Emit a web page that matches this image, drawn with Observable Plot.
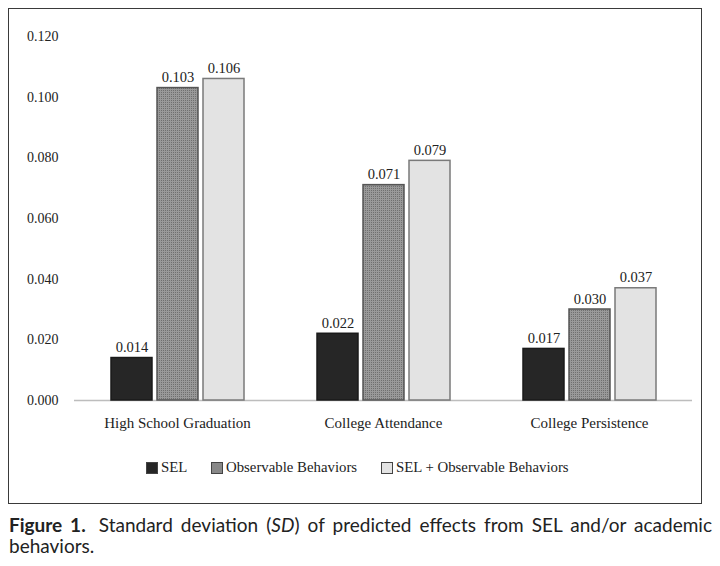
<!DOCTYPE html>
<html>
<head>
<meta charset="utf-8">
<script src="https://cdn.jsdelivr.net/npm/d3@7"></script>
<script src="https://cdn.jsdelivr.net/npm/@observablehq/plot@0.6"></script>
<style>
  html, body { margin: 0; padding: 0; background: #fff; }
  #wrap { position: relative; width: 720px; height: 566px; overflow: hidden; }
  #frame { position: absolute; left: 8px; top: 8px; width: 694px; height: 496px; border: 1.5px solid #3a3a3a; box-sizing: border-box; }
  #chart { position: absolute; left: 0; top: 0; }
  #legend { position: absolute; left: 0; top: 459px; width: 720px; height: 20px;
            font-family: "Liberation Serif", serif; font-size: 14.8px; color: #222; }
  #legend .item { position: absolute; top: 0; display: flex; align-items: center; white-space: nowrap; }
  #legend .sw { width: 10px; height: 10px; border: 1px solid #444; margin-right: 3px; }
  #caption { position: absolute; left: 9px; top: 515px; width: 703px;
             font-family: Lato, "Noto Sans", sans-serif; font-size: 19px; line-height: 20px; color: #222; }
  #caption .l1 { text-align: justify; text-align-last: justify; }
  #caption .l2 { margin-top: 1px; }
  #caption b { font-weight: 700; margin-right: 5px; }
</style>
</head>
<body>
<div id="wrap">
  <div id="frame"></div>
  <div id="chart"></div>
  <div id="legend"></div>
  <div id="caption">
    <div class="l1"><b>Figure 1.</b> <span>Standard deviation (</span><i>SD</i><span>) of predicted effects from SEL and/or academic</span></div>
    <div class="l2">behaviors.</div>
  </div>
</div>
<script>
const categories = ["High School Graduation", "College Attendance", "College Persistence"];
const series = ["SEL", "Observable Behaviors", "SEL + Observable Behaviors"];
const selValues = [0.014, 0.022, 0.017];
const obsValues = [0.103, 0.071, 0.030];
const bothValues = [0.106, 0.079, 0.037];
const yTicks = [0, 0.02, 0.04, 0.06, 0.08, 0.10, 0.12];

const fills = ["#262626", "url(#dots)", "#e3e3e3"];
const strokes = ["#1a1a1a", "#555555", "#7a7a7a"];

const data = [];
categories.forEach((c, i) => {
  [selValues, obsValues, bothValues].forEach((arr, j) => {
    data.push({category: c, series: series[j], value: arr[i]});
  });
});

const chart = Plot.plot({
  width: 720,
  height: 440,
  marginTop: 36,
  marginBottom: 40,
  marginLeft: 73,
  marginRight: 28,
  style: {fontFamily: "'Liberation Serif', serif", fontSize: "14px", color: "#222", background: "transparent"},
  fx: {domain: categories, padding: 0, axis: "bottom", label: null, tickSize: 0, tickPadding: 17},
  x: {domain: series, axis: null, paddingInner: 0.11, paddingOuter: 0.76},
  y: {domain: [0, 0.12], ticks: yTicks, tickFormat: d3.format(".3f"), tickSize: 0, tickPadding: 16, label: null},
  color: {domain: series, range: fills},
  marks: [
    Plot.ruleY([0], {stroke: "#bdbdbd", strokeWidth: 1.5}),
    Plot.barY(data, {fx: "category", x: "series", y: "value", fill: "series",
      stroke: d => strokes[series.indexOf(d.series)], strokeWidth: 1.5}),
    Plot.text(data, {fx: "category", x: "series", y: "value", text: d => d3.format(".3f")(d.value),
      lineAnchor: "bottom", dy: -6, fill: "#222", fontSize: 14.5})
  ]
});

// fine stipple pattern for the middle bars
const defs = d3.select(chart).insert("defs", ":first-child");
const pat = defs.append("pattern").attr("id", "dots").attr("patternUnits", "userSpaceOnUse")
  .attr("width", 2).attr("height", 2);
pat.append("rect").attr("width", 2).attr("height", 2).attr("fill", "#999999");
pat.append("rect").attr("width", 1).attr("height", 1).attr("fill", "#6f6f6f");
document.getElementById("chart").appendChild(chart);

// category label font size
d3.select(chart).selectAll("g[aria-label='fx-axis tick label'] text").attr("font-size", 15);

const legend = document.getElementById("legend");
const legendFills = ["#262626", "#888888", "#e3e3e3"];
const legendX = [146, 211, 381];
series.forEach((s, j) => {
  const item = document.createElement("div");
  item.className = "item";
  item.style.left = legendX[j] + "px";
  const sw = document.createElement("div");
  sw.className = "sw";
  sw.style.background = legendFills[j];
  const t = document.createElement("span");
  t.textContent = s;
  item.appendChild(sw); item.appendChild(t);
  legend.appendChild(item);
});
</script>
</body>
</html>
